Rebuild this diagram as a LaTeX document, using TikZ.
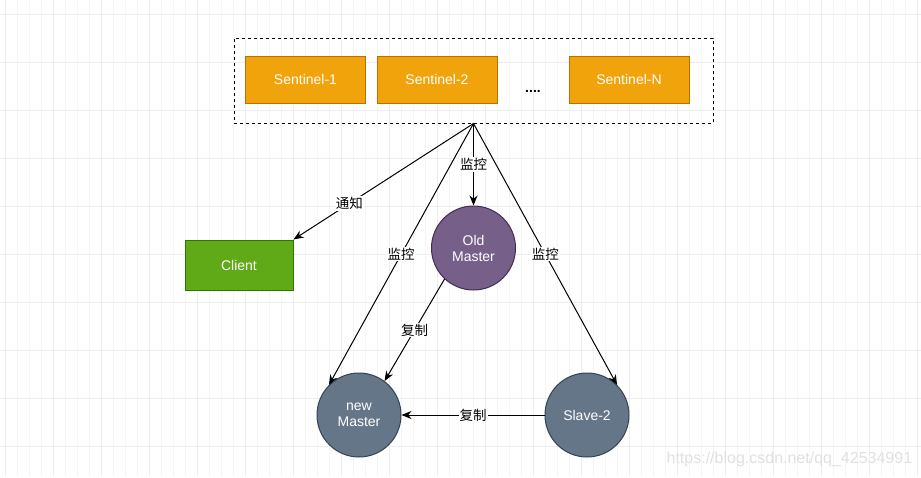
\documentclass[tikz,border=0pt]{standalone}
\usepackage{fontspec}
\setmainfont{Liberation Sans}
\newfontfamily\cjk{Noto Sans CJK SC}
\usetikzlibrary{arrows.meta}
\definecolor{sentfill}{HTML}{F0A30A}
\definecolor{sentline}{HTML}{BD7000}
\definecolor{clientfill}{HTML}{60A917}
\definecolor{clientline}{HTML}{2D7600}
\definecolor{oldfill}{HTML}{76608A}
\definecolor{oldline}{HTML}{432D57}
\definecolor{slavefill}{HTML}{647687}
\definecolor{slaveline}{HTML}{314354}
\begin{document}
\begin{tikzpicture}[x=1pt, y=-1pt, line width=1pt, >={Stealth[length=10pt,width=8pt]},
  box node/.style={rectangle,draw=sentline,fill=sentfill,text=white,minimum width=120pt,minimum height=47pt,font=\fontsize{14}{16}\selectfont},
  round node/.style={circle,draw=slaveline,fill=slavefill,text=white,minimum size=84pt,inner sep=0pt,align=center,font=\fontsize{14}{16}\selectfont},
  edge label/.style={fill=white,inner sep=1pt,font=\cjk\fontsize{13.5}{15}\selectfont}]
\useasboundingbox (0,0) rectangle (921,477);
% background grid
\foreach \x in {5,17,...,921} \draw[line width=0.6pt,black!4] (\x,0) -- (\x,477);
\foreach \x in {5,53,...,921} \draw[line width=0.8pt,black!7] (\x,0) -- (\x,477);
\foreach \y in {14,62,...,477} \draw[line width=0.8pt,black!7] (0,\y) -- (921,\y);
% sentinels
\node [draw,dashed,dash pattern=on 3pt off 3pt,minimum width=479pt,minimum height=85pt](group) at (473.5,80.5) {};
\node [box node](s1) at (305.5,79.5) {Sentinel-1};
\node [box node](s2) at (437,79.5) {Sentinel-2};
\node [box node](sn) at (629,79.5) {Sentinel-N};
\node [font=\bfseries\fontsize{14}{16}\selectfont](dots) at (533,91) {....};
% clients and redis
\node [box node,draw=clientline,fill=clientfill,minimum width=108pt,minimum height=50pt](client) at (239,265) {Client};
\node [round node,draw=oldline,fill=oldfill](old) at (473.5,248) {Old\\Master};
\node [round node](new) at (359,415) {new\\Master};
\node [round node](slave) at (587,415) {Slave-2};
\draw [->] (group.south) -- node[edge label,pos=0.69] {通知} (client.north east);
\draw [->] (group.south) -- node[edge label] {监控} (old.north);
\draw [->] (group.south) -- node[edge label] {监控} (new.135);
\draw [->] (group.south) -- node[edge label] {监控} (slave.45);
\draw [->] (old.227) -- node[edge label] {复制} (new.53);
\draw [->] (slave.west) -- node[edge label] {复制} (new.east);
\node [anchor=east,text=black!12,font=\fontsize{16}{18}\selectfont](mark) at (916,459) {https://blog.csdn.net/qq\_42534991};
\end{tikzpicture}
\end{document}
